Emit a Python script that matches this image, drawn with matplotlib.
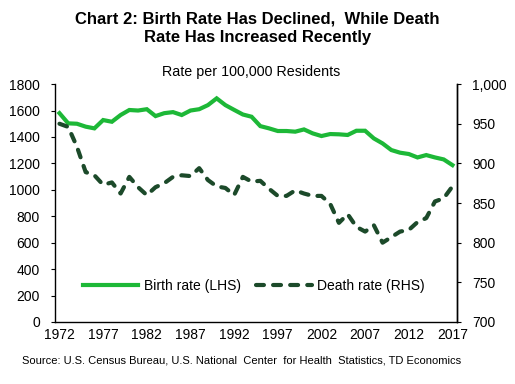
import matplotlib
matplotlib.use("Agg")
import matplotlib.pyplot as plt
from matplotlib.lines import Line2D

plt.rcParams['font.family'] = ['Liberation Sans', 'DejaVu Sans']

years = list(range(1972, 2018))
birth_rate = [1580, 1503, 1500, 1478, 1465, 1528, 1515, 1566, 1604, 1600,
              1610, 1558, 1580, 1588, 1566, 1600, 1610, 1641, 1692, 1641,
              1605, 1570, 1553, 1482, 1465, 1445, 1445, 1440, 1457, 1427,
              1407, 1422, 1420, 1415, 1447, 1447, 1389, 1351, 1301, 1281,
              1271, 1245, 1263, 1245, 1230, 1187]
death_rate = [950, 946, 921, 889, 885, 873, 876, 862, 883, 870,
              860, 870, 875, 883, 885, 884, 894, 879, 871, 869,
              860, 883, 877, 878, 868, 859, 859, 866, 862, 859,
              859, 849, 825, 836, 820, 814, 822, 800, 807, 814,
              816, 826, 831, 852, 856, 871]
xtick_years = list(range(1972, 2018, 5))
left_ticks = list(range(0, 1801, 200))
right_ticks = list(range(700, 1001, 50))

birth_color = '#1DB837'
death_color = '#1C4A2A'

fig = plt.figure(figsize=(5.15, 3.84), dpi=100)
ax = fig.add_axes([0.107, 0.1615, 0.780, 0.6195])
ax2 = ax.twinx()

ax.plot(years, birth_rate, color=birth_color, lw=3, solid_joinstyle='miter', zorder=3)
ax2.plot(years, death_rate, color=death_color, lw=3, dashes=(1.9, 2.2),
         dash_capstyle='round', zorder=2)

ax.set_xlim(1971.5, 2017.5)
ax.set_ylim(0, 1800)
ax2.set_ylim(700, 1000)
ax.set_xticks(xtick_years)
ax.set_xticklabels([str(y) for y in xtick_years])
ax.set_yticks(left_ticks)
ax.set_yticklabels([str(v) for v in left_ticks])
ax2.set_yticks(right_ticks)
ax2.set_yticklabels([f"{v:,}" for v in right_ticks])

for a in (ax, ax2):
    a.spines['top'].set_visible(False)
    for s in a.spines.values():
        s.set_linewidth(1.0)
        s.set_color('black')
    a.tick_params(labelsize=10, colors='black', length=3, width=0.8)
ax.tick_params(axis='x', length=0, pad=4)
ax.tick_params(axis='y', direction='out', pad=8)
ax2.tick_params(axis='y', direction='out', pad=8)
ax2.spines['left'].set_visible(False)
ax2.spines['bottom'].set_visible(False)

handles = [Line2D([], [], color=birth_color, lw=3),
           Line2D([], [], color=death_color, lw=3, dashes=(1.9, 2.2), dash_capstyle='round')]
ax.legend(handles, ['Birth rate (LHS)', 'Death rate (RHS)'], loc='lower center',
          bbox_to_anchor=(0.495, 0.07), ncol=2, frameon=False, fontsize=10,
          handlelength=4.0, handletextpad=0.4, columnspacing=1.1)

fig.text(0.5, 0.97, 'Chart 2: Birth Rate Has Declined,  While Death\nRate Has Increased Recently',
         ha='center', va='top', fontsize=12, fontweight='bold', linespacing=1.28)
fig.text(0.488, 0.812, 'Rate per 100,000 Residents', ha='center', va='center', fontsize=10.3)
fig.text(0.043, 0.06, 'Source: U.S. Census Bureau, U.S. National  Center  for Health  Statistics, TD Economics',
         ha='left', va='center', fontsize=8)

fig.savefig('out.png', dpi=100)
